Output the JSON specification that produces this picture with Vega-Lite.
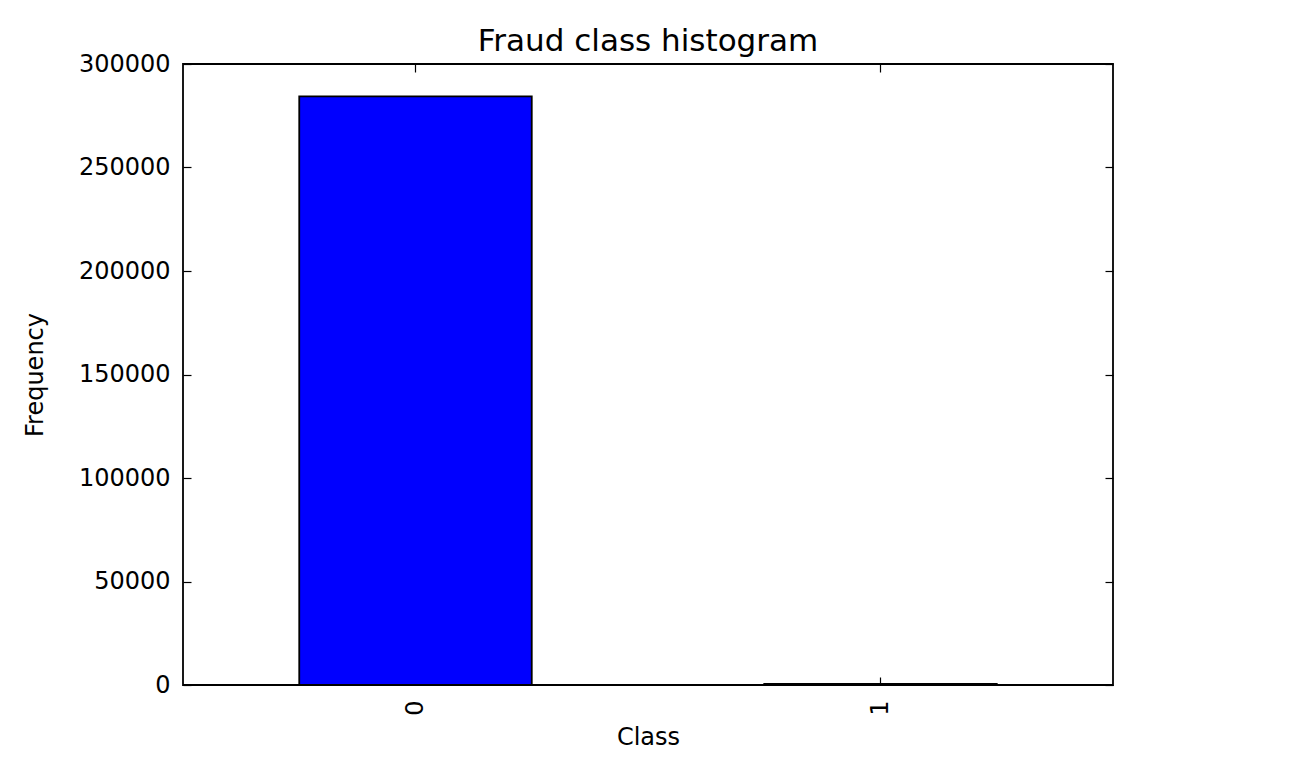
{
  "$schema": "https://vega.github.io/schema/vega-lite/v6.json",
  "autosize": "none",
  "width": 930,
  "height": 621,
  "padding": {"left": 183, "top": 64, "right": 185, "bottom": 99},
  "background": "white",
  "config": {
    "font": "DejaVu Sans",
    "view": {"stroke": "black", "strokeWidth": 1.8},
    "axis": {"domain": false, "grid": false, "tickColor": "black", "tickWidth": 1.2, "labelColor": "black", "titleColor": "black", "labelFont": "DejaVu Sans", "titleFont": "DejaVu Sans", "labelFontSize": 24, "titleFontSize": 24, "titleFontWeight": "normal", "labelOverlap": false}
  },
  "title": {"text": "Fraud class histogram", "fontSize": 31, "fontWeight": "normal", "font": "DejaVu Sans", "color": "black", "offset": -6},
  "data": {"values": [{"Class": "0", "Frequency": 284315}, {"Class": "1", "Frequency": 492}]},
  "layer": [
    {
      "mark": {"type": "bar", "color": "#0000ff", "stroke": "black", "strokeWidth": 1.8},
      "encoding": {
        "x": {"field": "Class", "type": "nominal", "scale": {"paddingInner": 0.5, "paddingOuter": 0.25},
              "axis": {"orient": "bottom", "labelAngle": -90, "tickSize": -8, "labelPadding": 23, "title": "Class", "titlePadding": 10}},
        "y": {"field": "Frequency", "type": "quantitative", "scale": {"domain": [0, 300000], "nice": false},
              "axis": {"orient": "left", "values": [0, 50000, 100000, 150000, 200000, 250000, 300000], "format": "d", "tickSize": -8, "labelPadding": 21, "title": "Frequency", "titlePadding": 31}}
      }
    },
    {
      "mark": {"type": "bar", "opacity": 0},
      "encoding": {
        "x": {"field": "Class", "type": "nominal", "scale": {"paddingInner": 0.5, "paddingOuter": 0.25},
              "axis": {"orient": "top", "labels": false, "tickSize": -8, "title": null}},
        "y": {"field": "Frequency", "type": "quantitative", "scale": {"domain": [0, 300000], "nice": false},
              "axis": {"orient": "right", "labels": false, "values": [0, 50000, 100000, 150000, 200000, 250000, 300000], "tickSize": -8, "title": null}}
      }
    }
  ],
  "resolve": {"axis": {"x": "independent", "y": "independent"}}
}
